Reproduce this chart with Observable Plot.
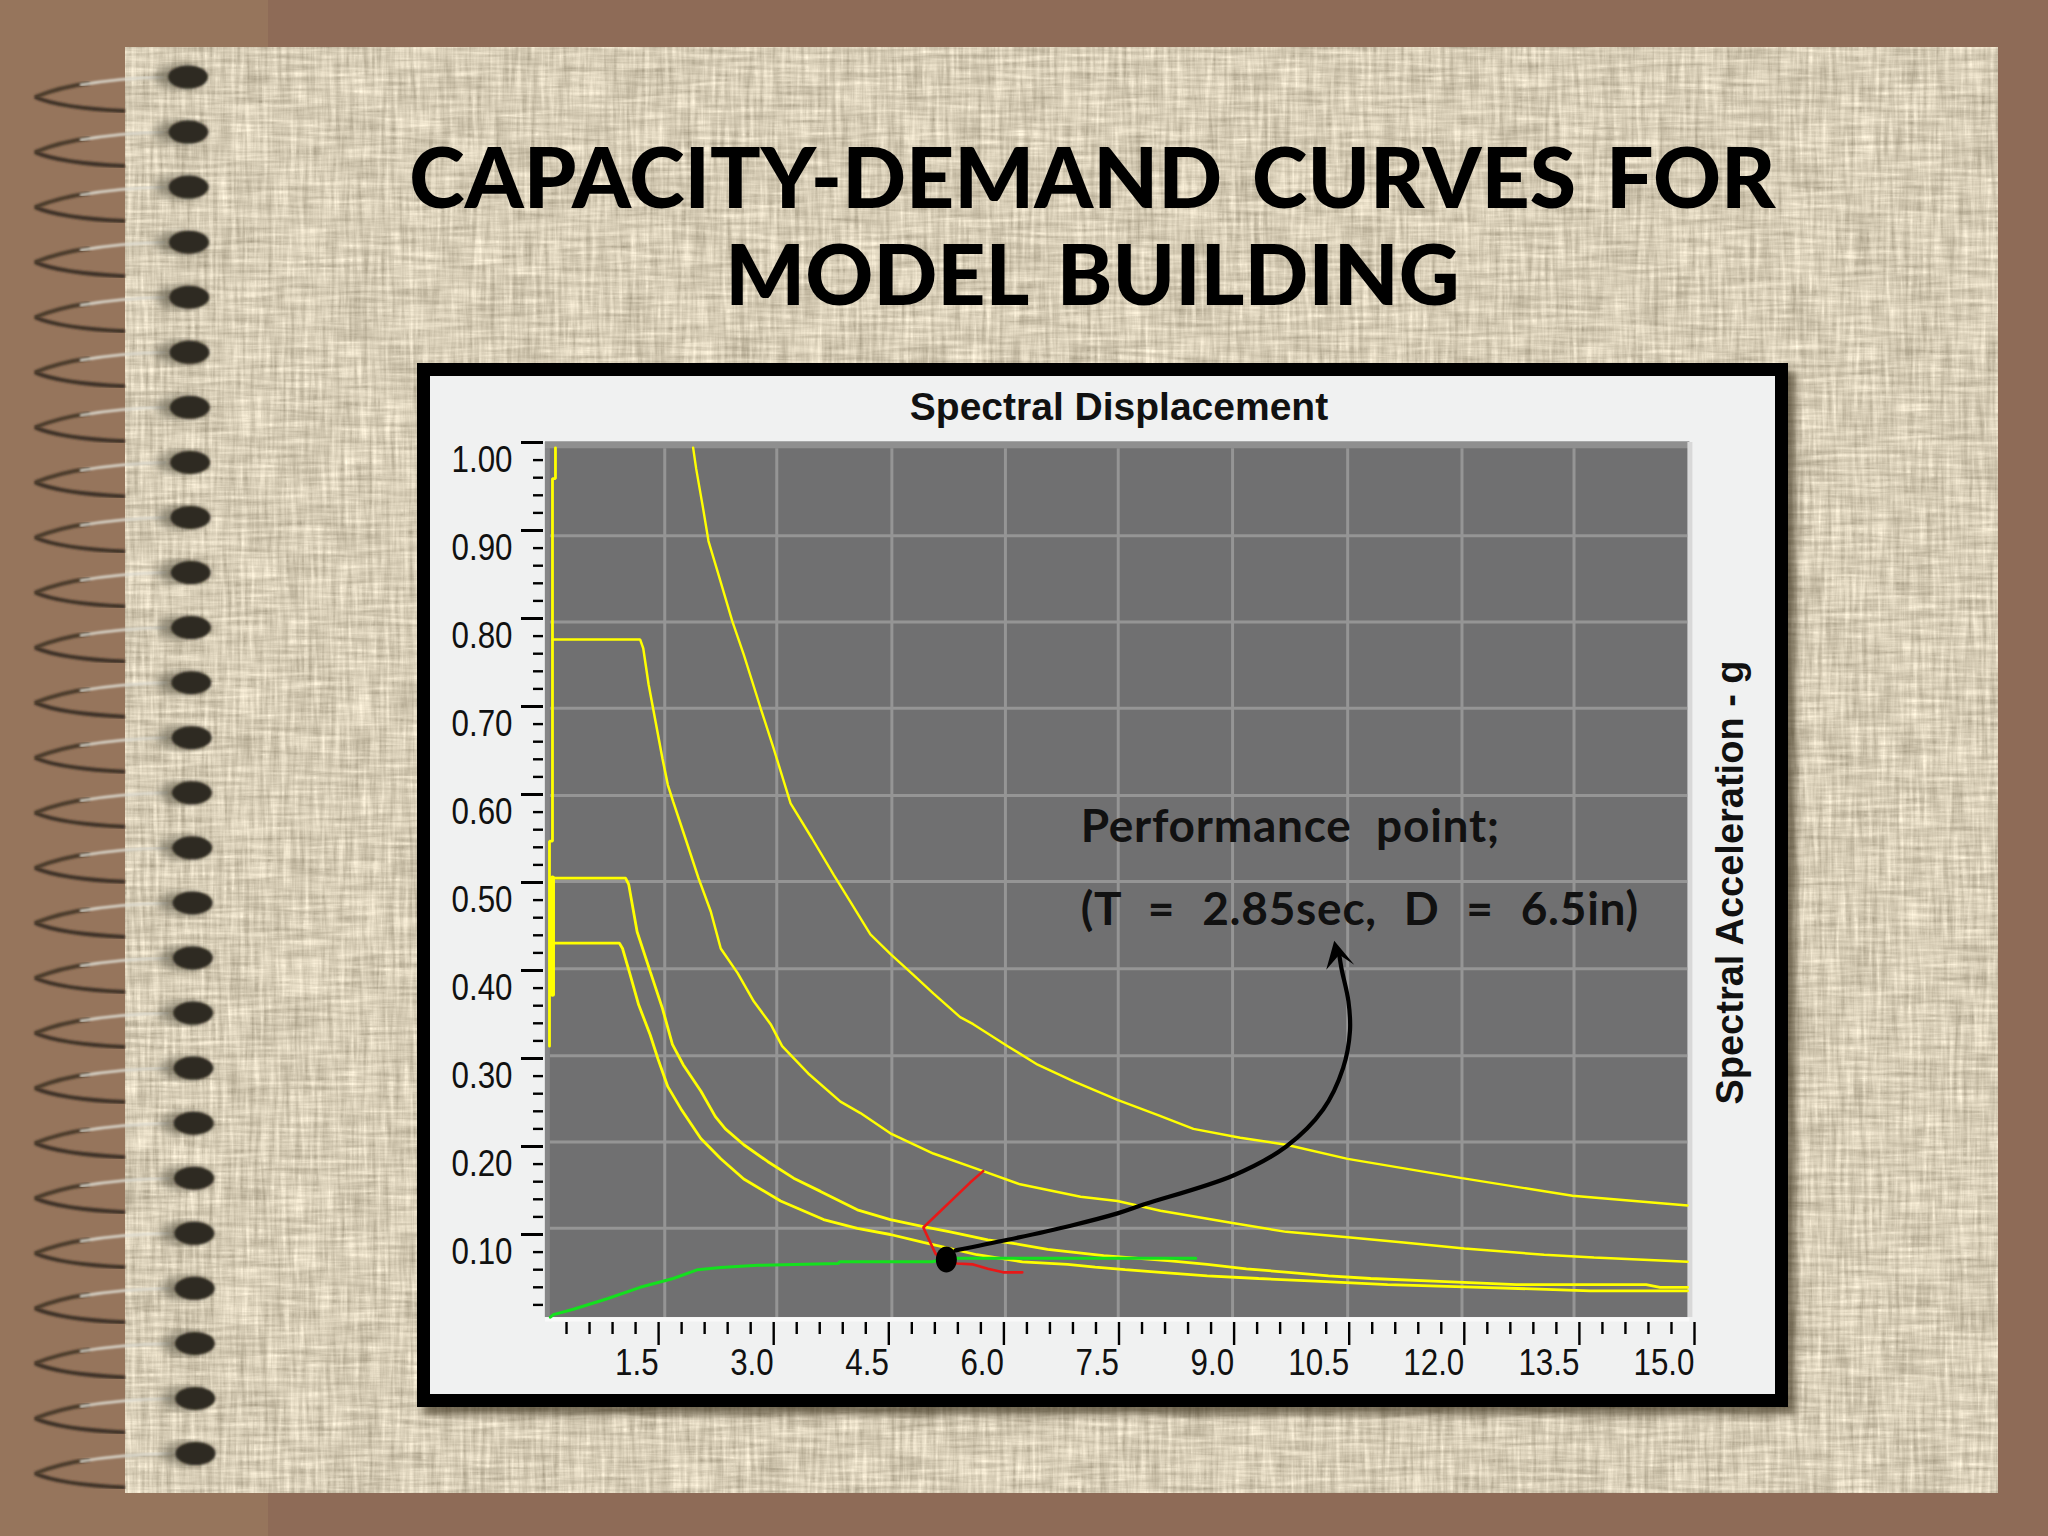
<!DOCTYPE html>
<html>
<head>
<meta charset="utf-8">
<script src="https://cdn.jsdelivr.net/npm/d3@7"></script>
<script src="https://cdn.jsdelivr.net/npm/@observablehq/plot@0.6"></script>
<style>
  html,body{margin:0;padding:0;width:2048px;height:1536px;overflow:hidden;background:#8e6b57;}
  #bg{position:absolute;left:0;top:0;width:2048px;height:1536px;}
  #leftTint{position:absolute;left:0;top:0;width:268px;height:1536px;background:#96755c;}
  #title{position:absolute;left:0;top:127px;width:2185px;margin:0;text-align:center;
    font:900 84px/97px Lato,"DejaVu Sans",sans-serif;color:#000;word-spacing:10px;}
  #panel{position:absolute;left:417px;top:363px;width:1345px;height:1018px;border:13px solid #000;
    background:#f0f1f1;box-shadow:8px 8px 7px rgba(50,40,20,.6);}
  #panel svg{display:block;}
  .note1 text{letter-spacing:.74px;word-spacing:12.7px;}
  .note2 text{letter-spacing:.74px;word-spacing:15px;}
</style>
</head>
<body>
<div id="leftTint"></div>
<svg id="bg" width="2048" height="1536"></svg>
<h1 id="title">CAPACITY-DEMAND CURVES FOR<br>MODEL BUILDING</h1>
<div id="panel"></div>
<script>
// ---------- axis values ----------
const xMajor = [1.5, 3, 4.5, 6, 7.5, 9, 10.5, 12, 13.5, 15];
const xMinor = [0.3,0.6,0.9,1.2, 1.8,2.1,2.4,2.7, 3.3,3.6,3.9,4.2, 4.8,5.1,5.4,5.7, 6.3,6.6,6.9,7.2, 7.8,8.1,8.4,8.7, 9.3,9.6,9.9,10.2, 10.8,11.1,11.4,11.7, 12.3,12.6,12.9,13.2, 13.8,14.1,14.4,14.7];
const yMajor = [0.1,0.2,0.3,0.4,0.5,0.6,0.7,0.8,0.9,1.0];
const yMinor = [0.02,0.04,0.06,0.08, 0.12,0.14,0.16,0.18, 0.22,0.24,0.26,0.28, 0.32,0.34,0.36,0.38, 0.42,0.44,0.46,0.48, 0.52,0.54,0.56,0.58, 0.62,0.64,0.66,0.68, 0.72,0.74,0.76,0.78, 0.82,0.84,0.86,0.88, 0.92,0.94,0.96,0.98];
// the program's grid sits slightly off its own tick marks
const xGrid = [1.58, 3.04, 4.54, 6.02, 7.49, 8.98, 10.48, 11.97, 13.43];
const yGrid = [0.894, 0.796, 0.698, 0.599, 0.501, 0.402, 0.303, 0.205, 0.107];
const titleText = "Spectral Displacement";
const yTitle = "Spectral Acceleration - g";
const note1 = "Performance point;";
const note2 = "(T = 2.85sec, D = 6.5in)";

// ---------- series (Sd inches, Sa g) ----------
const spineX = [0.156,0.156,0.117,0.117,0.078,0.078];
const spineY = [0.994,0.959,0.959,0.547,0.547,0.314];
const thickX = [0.117,0.117];
const thickY = [0.505,0.373];

const demandDx = [1.95,1.99,2.08,2.15,2.27,2.46,2.61,2.83,3.00,3.22,3.50,3.78,4.00,4.26,4.53,4.82,5.08,5.43,5.60,6.05,6.44,6.91,7.48,8.00,8.47,9.08,9.68,10.48,11.97,13.41,14.91];
const demandDy = [0.994,0.970,0.925,0.888,0.853,0.797,0.759,0.698,0.652,0.590,0.550,0.509,0.478,0.441,0.418,0.395,0.374,0.347,0.339,0.314,0.293,0.274,0.253,0.236,0.220,0.210,0.202,0.186,0.164,0.144,0.133];

const demandCx = [0.117,1.26,1.30,1.37,1.46,1.55,1.62,1.69,1.85,2.02,2.18,2.31,2.53,2.74,2.96,3.11,3.45,3.87,4.13,4.52,5.08,5.73,6.21,7.00,7.48,8.04,8.98,9.68,10.48,11.21,12.00,13.04,13.69,14.91];
const demandCy = [0.776,0.776,0.766,0.725,0.683,0.641,0.611,0.592,0.550,0.505,0.467,0.425,0.397,0.365,0.339,0.314,0.283,0.251,0.238,0.215,0.192,0.172,0.157,0.143,0.138,0.127,0.113,0.103,0.097,0.091,0.084,0.077,0.074,0.069];

const demandBx = [0.117,1.07,1.11,1.22,1.39,1.55,1.68,1.82,2.05,2.24,2.37,2.61,2.92,3.26,3.61,4.09,4.52,4.95,5.30,5.79,6.12,6.57,7.30,8.17,8.65,9.16,9.71,10.23,10.78,11.60,12.68,14.37,14.55,14.91];
const demandBy = [0.505,0.505,0.498,0.444,0.399,0.357,0.316,0.293,0.263,0.234,0.220,0.202,0.183,0.164,0.149,0.128,0.117,0.109,0.103,0.094,0.090,0.083,0.076,0.070,0.066,0.061,0.057,0.053,0.050,0.047,0.043,0.043,0.040,0.040];

const demandAx = [0.117,0.99,1.03,1.13,1.24,1.39,1.49,1.62,1.79,2.05,2.31,2.61,3.09,3.65,4.09,4.52,4.95,5.65,6.24,6.83,7.19,7.58,8.04,8.65,9.32,10.06,11.00,12.22,13.64,14.91];
const demandAy = [0.431,0.431,0.425,0.395,0.361,0.327,0.300,0.268,0.243,0.209,0.186,0.163,0.138,0.117,0.107,0.100,0.091,0.077,0.069,0.066,0.063,0.060,0.057,0.053,0.050,0.047,0.043,0.040,0.036,0.036];

const capacityX = [0.09,0.13,0.39,0.83,1.26,1.69,2.01,2.31,2.79,3.84,3.86,5.07,5.24,8.50];
const capacityY = [0.006,0.009,0.015,0.027,0.040,0.050,0.060,0.0625,0.065,0.067,0.069,0.069,0.073,0.073];

const reductionX = [5.73,5.56,4.95,5.11,5.24,5.39,5.60,5.79,5.99,6.24];
const reductionY = [0.172,0.159,0.108,0.078,0.069,0.067,0.066,0.061,0.057,0.057];

const pointX = [5.25];
const pointY = [0.0716];
const leaderX = [5.37,6.05,6.87,7.48,7.82,8.99,9.68,10.16,10.42,10.51,10.49,10.40,10.37];
const leaderY = [0.082,0.094,0.110,0.124,0.134,0.167,0.200,0.242,0.289,0.331,0.365,0.402,0.418];
const headX = [10.37];
const headY = [0.418];

// plot well extents, in axis units
const wellX = [0.026, 14.94];
const wellY = [0.0057, 1.0];
const edgeTop = [0.9975];
const edgeBottom = [0.0035];
const edgeLeft = [0.05];
const edgeRight = [14.94];

// ---------- glyphs ----------
const ellipseSymbol = {draw(c, size){
  const rx = Math.sqrt(size/Math.PI), ry = rx*1.24, k = 0.5523;
  c.moveTo(0,-ry);
  c.bezierCurveTo(k*rx,-ry,rx,-k*ry,rx,0);
  c.bezierCurveTo(rx,k*ry,k*rx,ry,0,ry);
  c.bezierCurveTo(-k*rx,ry,-rx,k*ry,-rx,0);
  c.bezierCurveTo(-rx,-k*ry,-k*rx,-ry,0,-ry);
  c.closePath();
}};
const barbSymbol = {draw(c, size){
  const s = Math.sqrt(size/Math.PI)/14;
  c.moveTo(-5*s,-14*s); c.lineTo(15*s,10*s); c.lineTo(0,0); c.lineTo(-13*s,15*s); c.closePath();
}};

const tickFont = '"Liberation Sans",sans-serif';
const noteFont = 'Lato,"DejaVu Sans",sans-serif';
const yellow = "#ffff00", grid = "#959595", well = "#707071";
const curve = (xs, ys, stroke, strokeWidth) => Plot.line(xs, {x: xs, y: ys, stroke, strokeWidth, strokeLinejoin:"miter"});

const chart = Plot.plot({
  width: 1345, height: 1018,
  marginLeft: 113, marginRight: 81, marginTop: 66, marginBottom: 72,
  x: {domain:[0,15]},
  y: {domain:[0,1]},
  style: {background:"transparent", overflow:"visible"},
  marks: [
    Plot.rect(wellX.slice(0,1), {x1: wellX.slice(0,1), x2: wellX.slice(1), y1: wellY.slice(0,1), y2: wellY.slice(1), fill: well}),
    Plot.ruleX(edgeLeft, {x: edgeLeft, y1: wellY[0], y2: wellY[1], stroke:"#858586", strokeWidth:5}),
    Plot.ruleY(edgeTop, {y: edgeTop, x1: wellX[0], x2: wellX[1], stroke:"#8f8f8f", strokeWidth:7}),
    Plot.ruleY(edgeBottom, {y: edgeBottom, x1: wellX[0], x2: wellX[1], stroke:"#f9f9f9", strokeWidth:4}),
    Plot.ruleX(edgeRight, {x: edgeRight, y1: wellY[0], y2: wellY[1], stroke:"#d8d8d8", strokeWidth:5}),
    Plot.ruleX(xGrid, {x: xGrid, y1: wellY[0], y2: 0.993, stroke: grid, strokeWidth:3}),
    Plot.ruleY(yGrid, {y: yGrid, x1: 0.09, x2: 14.91, stroke: grid, strokeWidth:3}),

    Plot.axisY({ticks: yMinor, tickSize:10, fill:"none", label:null, stroke:"#000", strokeWidth:2.4}),
    Plot.axisY({ticks: yMajor, tickSize:22, fill:"none", label:null, stroke:"#000", strokeWidth:3}),
    Plot.axisY({ticks: yMajor, tickSize:0, tickPadding:31, dy:18, tickFormat:d3.format(".2f"), label:null, fontSize:36, fontFamily:tickFont, fill:"#111"}),
    Plot.axisX({ticks: xMinor, tickSize:12, fill:"none", label:null, stroke:"#000", strokeWidth:2.4}),
    Plot.axisX({ticks: xMajor, tickSize:23, fill:"none", label:null, stroke:"#000", strokeWidth:2.4}),
    Plot.axisX({ticks: xMajor, tickSize:0, tickPadding:27, textAnchor:"end", tickFormat:d3.format(".1f"), label:null, fontSize:36, fontFamily:tickFont, fill:"#111"}),

    curve(spineX, spineY, yellow, 2.8),
    curve(thickX, thickY, yellow, 5),
    curve(demandDx, demandDy, yellow, 2.4),
    curve(demandCx, demandCy, yellow, 2.5),
    curve(demandBx, demandBy, yellow, 2.8),
    curve(demandAx, demandAy, yellow, 2.8),
    curve(reductionX, reductionY, "#e81818", 2.6),
    curve(capacityX, capacityY, "#14e01e", 3),

    Plot.line(leaderX, {x: leaderX, y: leaderY, curve:"catmull-rom", stroke:"#000", strokeWidth:4.2}),
    Plot.dot(headX, {x: headX, y: headY, r:14, symbol: barbSymbol, fill:"#000", stroke:"none"}),
    Plot.dot(pointX, {x: pointX, y: pointY, r:10.5, symbol: ellipseSymbol, fill:"#000", stroke:"none"}),

    Plot.text([note1], {x:[7.0], y:[0.5625], text:d=>d, textAnchor:"start", className:"note1", fontSize:46, fontWeight:700, fontFamily:noteFont, fill:"#111"}),
    Plot.text([note2], {x:[7.0], y:[0.469], text:d=>d, textAnchor:"start", className:"note2", fontSize:46, fontWeight:700, fontFamily:noteFont, fill:"#111"}),

    Plot.text([titleText], {frameAnchor:"top", dy:-50, text:d=>d, fontSize:39, fontWeight:700, fontFamily:'"Liberation Sans",sans-serif', fill:"#111"}),
    Plot.text([yTitle], {frameAnchor:"right", dx:36, rotate:-90, textAnchor:"middle", text:d=>d, fontSize:38, fontWeight:700, fontFamily:'"Liberation Sans",sans-serif', fill:"#111"})
  ]
});
document.getElementById("panel").appendChild(chart);

// the original's tick labels are condensed: keep them real text, narrowed to the original's width
chart.querySelectorAll('g[aria-label="y-axis tick label"] text, g[aria-label="x-axis tick label"] text').forEach(t => {
  t.setAttribute("textLength", (t.getComputedTextLength()*0.87).toFixed(1));
  t.setAttribute("lengthAdjust", "spacingAndGlyphs");
});

// ---------- notebook backdrop ----------
const bg = d3.select("#bg");
const defs = bg.append("defs");
const linen = defs.append("filter").attr("id","linen").attr("x",0).attr("y",0).attr("width",1).attr("height",1)
  .attr("color-interpolation-filters","sRGB");
linen.append("feTurbulence").attr("type","fractalNoise").attr("baseFrequency","0.22 0.018").attr("numOctaves",3).attr("seed",3).attr("result","v");
linen.append("feTurbulence").attr("type","fractalNoise").attr("baseFrequency","0.018 0.22").attr("numOctaves",3).attr("seed",8).attr("result","h");
linen.append("feComposite").attr("in","v").attr("in2","h").attr("operator","arithmetic").attr("k1",0).attr("k2",0.5).attr("k3",0.5).attr("k4",0).attr("result","m");
linen.append("feColorMatrix").attr("in","m").attr("type","matrix").attr("values",
  "0.55 0 0 0 0.57  0.55 0 0 0 0.53  0.55 0 0 0 0.44  0 0 0 0 1");
defs.append("filter").attr("id","soft").append("feGaussianBlur").attr("stdDeviation",1.2);
defs.append("filter").attr("id","softer").append("feGaussianBlur").attr("stdDeviation",4);
bg.append("rect").attr("x",125).attr("y",47).attr("width",1873).attr("height",1446).attr("filter","url(#linen)");

const holes = d3.range(26);
const ring = bg.append("g");
holes.forEach(i=>{
  const y = 77 + i*55.06, hx = 188 + i*0.3;
  ring.append("path").attr("d",`M35 ${y+20} Q60 ${y+31} 125 ${y+34}`).attr("fill","none").attr("stroke","#3d3026").attr("stroke-width",4).attr("filter","url(#soft)");
  ring.append("path").attr("d",`M35 ${y+20} Q60 ${y+10} 90 ${y+6}`).attr("fill","none").attr("stroke","#4a3a2c").attr("stroke-width",4).attr("filter","url(#soft)");
  ring.append("path").attr("d",`M80 ${y+8} Q120 ${y+1} ${hx-24} ${y}`).attr("fill","none").attr("stroke","#dcdad0").attr("stroke-width",2.5).attr("filter","url(#soft)");
  ring.append("ellipse").attr("cx",hx-8).attr("cy",y).attr("rx",26).attr("ry",12).attr("fill","#5e5a4a").attr("opacity",.6).attr("filter","url(#softer)");
  ring.append("ellipse").attr("cx",hx).attr("cy",y).attr("rx",20).attr("ry",11.5).attr("fill","#2f2a20").attr("filter","url(#soft)");
});
</script>
</body>
</html>
